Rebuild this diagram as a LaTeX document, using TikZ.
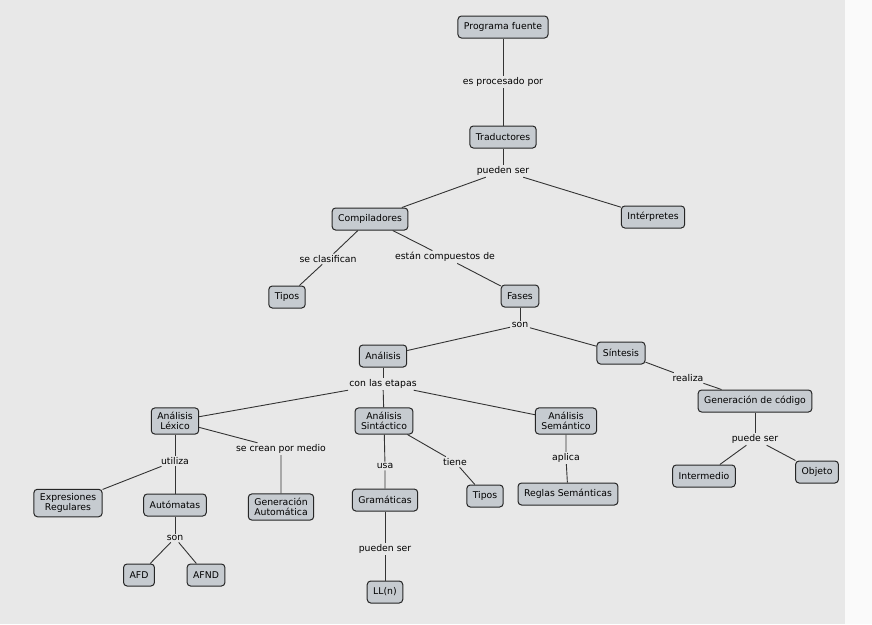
\documentclass[tikz,border=0pt]{standalone}
\usepackage{fontspec}
\setmainfont{DejaVu Sans}
\begin{document}
\begin{tikzpicture}[x=1pt,y=-1pt,
  box/.style={draw=black!85,line width=1pt,fill=boxc,rounded corners=3.5pt,inner xsep=6pt,inner ysep=4pt,font=\fontsize{9.3}{10.5}\selectfont,align=center,minimum height=22pt},
  lab/.style={fill=bgc,inner sep=1.5pt,font=\fontsize{9.3}{10.5}\selectfont},
  ln/.style={draw=black!80,line width=0.9pt}]
\definecolor{bgc}{HTML}{E8E8E8}
\definecolor{boxc}{HTML}{C6CBD0}
\fill[bgc] (0,0) rectangle (872,624);
\fill[white!96!gray] (845,0) rectangle (872,624);
\useasboundingbox (0,0) rectangle (872,624);
% nodes
\node[box] (pf) at (503,27) {Programa fuente};
\node[box] (tr) at (503,137) {Traductores};
\node[box] (co) at (370,219) {Compiladores};
\node[box] (in) at (653,217) {Intérpretes};
\node[box] (ti1) at (287,297) {Tipos};
\node[box] (fa) at (520,296) {Fases};
\node[box] (an) at (383,356) {Análisis};
\node[box] (si) at (621,353) {Síntesis};
\node[box] (al) at (175,421) {Análisis\\Léxico};
\node[box] (as) at (384,421) {Análisis\\Sintáctico};
\node[box] (ase) at (566,421) {Análisis\\Semántico};
\node[box] (gc) at (755,401) {Generación de código};
\node[box] (er) at (68,503) {Expresiones\\Regulares};
\node[box] (au) at (175,505) {Autómatas};
\node[box] (ga) at (281,507) {Generación\\Automática};
\node[box] (gr) at (385,500) {Gramáticas};
\node[box] (ti2) at (485,496) {Tipos};
\node[box] (rs) at (568,494) {Reglas Semánticas};
\node[box] (im) at (704,476) {Intermedio};
\node[box] (ob) at (817,472) {Objeto};
\node[box] (afd) at (139,575) {AFD};
\node[box] (afnd) at (206,575) {AFND};
\node[box] (ll) at (385,592) {LL(n)};
% labels
\node[lab] (l1) at (503,82) {es procesado por};
\node[lab] (l2) at (503,171) {pueden ser};
\node[lab] (l3) at (328,259) {se clasifican};
\node[lab] (l4) at (445,257) {están compuestos de};
\node[lab] (l5) at (520,325) {son};
\node[lab] (l6) at (383,384) {con las etapas};
\node[lab] (l7) at (688,378) {realiza};
\node[lab] (l8) at (175,461) {utiliza};
\node[lab] (l9) at (281,449) {se crean por medio};
\node[lab] (l10) at (385,466) {usa};
\node[lab] (l11) at (455,462) {tiene};
\node[lab] (l12) at (566,458) {aplica};
\node[lab] (l13) at (755,439) {puede ser};
\node[lab] (l14) at (175,538) {son};
\node[lab] (l15) at (385,549) {pueden ser};
% edges
\draw[ln] (pf) -- (l1) -- (tr);
\draw[ln] (tr) -- (l2); \draw[ln] (l2) -- (co); \draw[ln] (l2) -- (in);
\draw[ln] (co) -- (l3) -- (ti1);
\draw[ln] (co) -- (l4) -- (fa);
\draw[ln] (fa) -- (l5); \draw[ln] (l5) -- (an); \draw[ln] (l5) -- (si);
\draw[ln] (an) -- (l6); \draw[ln] (l6) -- (al); \draw[ln] (l6) -- (as); \draw[ln] (l6) -- (ase);
\draw[ln] (si) -- (l7) -- (gc);
\draw[ln] (al) -- (l8); \draw[ln] (l8) -- (er); \draw[ln] (l8) -- (au);
\draw[ln] (al) -- (l9) -- (ga);
\draw[ln] (as) -- (l10) -- (gr);
\draw[ln] (as) -- (l11) -- (ti2);
\draw[ln] (ase) -- (l12) -- (rs);
\draw[ln] (gc) -- (l13); \draw[ln] (l13) -- (im); \draw[ln] (l13) -- (ob);
\draw[ln] (au) -- (l14); \draw[ln] (l14) -- (afd); \draw[ln] (l14) -- (afnd);
\draw[ln] (gr) -- (l15) -- (ll);
\end{tikzpicture}
\end{document}
